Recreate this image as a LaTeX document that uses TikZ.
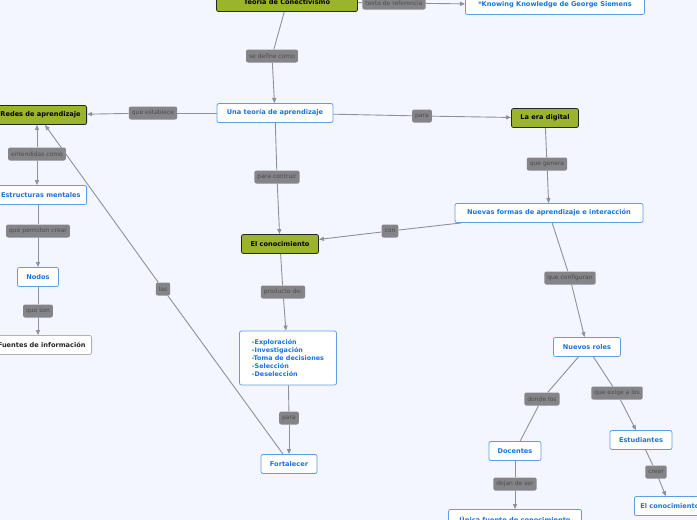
\documentclass[tikz,border=0pt]{standalone}
\usepackage{fontspec}
\setmainfont{DejaVu Sans}
\usetikzlibrary{arrows.meta}
\definecolor{bg}{HTML}{F3F6FF}
\definecolor{gr}{HTML}{9AB52C}
\definecolor{bl}{HTML}{1A73E0}
\definecolor{lb}{HTML}{858589}
\definecolor{ln}{HTML}{8F9196}
\tikzset{
 base/.style={rounded corners=2pt,font=\bfseries\fontsize{6.6}{8}\selectfont,inner sep=3pt,minimum height=19pt,line width=0.8pt},
 green/.style={base,draw=black!85,fill=gr},
 blue/.style={base,draw=bl!70,fill=white,text=bl},
 plain/.style={base,draw=black!30,fill=white,text=black!85},
 lab/.style={fill=lb,rounded corners=2pt,font=\fontsize{6}{7}\selectfont,text=black!70,inner sep=3pt,minimum height=13pt},
 conn/.style={draw=ln,line width=0.9pt},
 arr/.style={conn,-{Triangle[length=5pt,width=4pt]}},
}
\begin{document}
\begin{tikzpicture}[x=1pt,y=-1pt]
\fill[bg] (0,0) rectangle (697,520);
\useasboundingbox (0,0) rectangle (697,520);
% nodes
\node[green,minimum width=141pt] (teoria) at (287,2) {Teoría de Conectivismo};
\node[blue,minimum width=179pt] (know) at (555,5) {*Knowing Knowledge de George Siemens};
\node[blue,minimum width=116pt] (una) at (275,113) {Una teoría de aprendizaje};
\node[green,anchor=east,inner xsep=6pt] (redes) at (87,115) {Redes de aprendizaje};
\node[green,minimum width=67pt] (era) at (545,118) {La era digital};
\node[blue,minimum width=188pt] (nuevas) at (549,213) {Nuevas formas de aprendizaje e interacción};
\node[green,minimum width=77pt] (conoc) at (280,244) {El conocimiento};
\node[blue,anchor=east,inner xsep=6pt] (estr) at (87,195) {Estructuras mentales};
\node[blue,minimum width=41pt] (nodos) at (38,277) {Nodos};
\node[plain,anchor=east,inner xsep=6pt] (fuentes) at (92,345) {Fuentes de información};
\node[blue,minimum width=97pt,minimum height=54pt,align=left,font=\bfseries\fontsize{6.4}{8.2}\selectfont] (lista) at (288,358) {-Exploración\\-Investigación\\-Toma de decisiones\\-Selección\\-Deselección};
\node[blue,minimum width=56pt] (fort) at (289,464) {Fortalecer};
\node[blue,minimum width=67pt] (roles) at (587,347) {Nuevos roles};
\node[blue,minimum width=52pt] (doc) at (515,451) {Docentes};
\node[blue,minimum width=62pt] (est) at (641,440) {Estudiantes};
\node[blue,anchor=west,inner xsep=6pt] (con2) at (634,506) {El conocimiento};
\node[blue,minimum width=133pt] (unica) at (515,519) {Única fuente de conocimiento};
% labels
\node[lab] (l1) at (272,56) {se define como};
\node[lab] (l2) at (394,3) {texto de referencia};
\node[lab] (l3) at (153,113) {que establece};
\node[lab] (l4) at (422,116) {para};
\node[lab] (l5) at (37,154) {entendidas como};
\node[lab] (l6) at (277,177) {para contruir};
\node[lab] (l7) at (547,164) {que genera};
\node[lab] (l8) at (38,231) {que permiten crear};
\node[lab] (l9) at (390,231) {con};
\node[lab] (l10) at (283,292) {producto de:};
\node[lab] (l11) at (163,289) {las};
\node[lab] (l12) at (38,311) {que son};
\node[lab] (l13) at (570,278) {que configuran};
\node[lab] (l14) at (289,418) {para};
\node[lab] (l15) at (542,399) {donde los};
\node[lab] (l16) at (617,393) {que exige a los};
\node[lab] (l17) at (515,484) {dejan de ser};
\node[lab] (l18) at (656,472) {crear};
% connectors
\draw[conn] (teoria) -- (l1); \draw[arr] (l1) -- (una);
\draw[conn] (teoria) -- (l2); \draw[arr] (l2) -- (know);
\draw[conn] (una) -- (l3); \draw[arr] (l3) -- (redes);
\draw[conn] (una) -- (l4); \draw[arr] (l4) -- (era);
\draw[arr] (l5) -- (redes.south-|l5); \draw[arr] (l5) -- (estr.north-|l5);
\draw[conn] (una) -- (l6); \draw[arr] (l6) -- (conoc);
\draw[conn] (era) -- (l7); \draw[arr] (l7) -- (nuevas);
\draw[conn] (estr.south-|l8) -- (l8); \draw[arr] (l8) -- (nodos);
\draw[conn] (nuevas) -- (l9); \draw[arr] (l9) -- (conoc);
\draw[conn] (conoc) -- (l10); \draw[arr] (l10) -- (lista);
\coordinate (fa) at ([xshift=-6pt]fort.north);
\coordinate (ra) at (45,125);
\draw[conn] (fa) -- (l11); \draw[arr] (l11) -- (ra);
\draw[conn] (nodos) -- (l12); \draw[arr] (l12) -- (fuentes.north-|l12);
\draw[conn] (nuevas) -- (l13); \draw[arr] (l13) -- (roles);
\draw[conn] (lista) -- (l14); \draw[arr] (l14) -- (fort);
\draw[conn] (roles) -- (l15); \draw[conn] (l15) -- (doc);
\draw[conn] (roles) -- (l16); \draw[arr] (l16) -- (est);
\draw[conn] (doc) -- (l17); \draw[arr] (l17) -- (unica);
\draw[conn] (est) -- (l18); \draw[arr] (l18) -- (con2);
\end{tikzpicture}
\end{document}
